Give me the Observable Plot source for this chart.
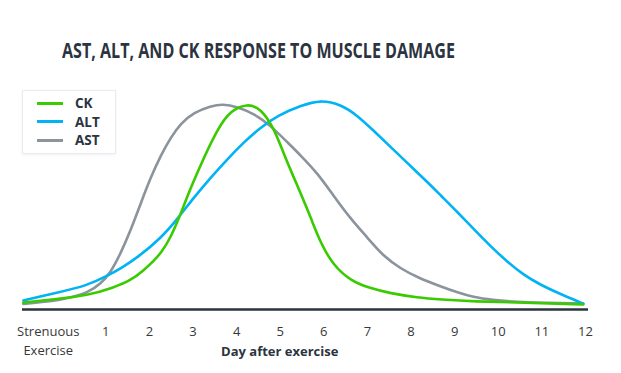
<!DOCTYPE html>
<html>
<head>
<meta charset="utf-8">
<script src="https://cdn.jsdelivr.net/npm/d3@7"></script>
<script src="https://cdn.jsdelivr.net/npm/@observablehq/plot@0.6"></script>
<style>
  html, body { margin: 0; padding: 0; background: #fff; }
  #wrap { position: relative; width: 621px; height: 373px; overflow: hidden; font-family: "Open Sans", sans-serif; }
  #title { position: absolute; left: 62px; top: 39px; font-size: 21.5px; line-height: 1; font-weight: 700; color: #2b3440; white-space: nowrap; transform-origin: left top; }
  #legend { position: absolute; left: 22px; top: 90px; width: 92px; height: 62px; background: #fff; border: 1px solid #e8ecf1; box-shadow: 0 1px 3px rgba(0,0,0,0.06); }
  .lg-row { position: absolute; left: 0; height: 16px; width: 92px; }
  .lg-sw { position: absolute; left: 14px; top: 6.5px; width: 26px; height: 3px; }
  .lg-tx { position: absolute; left: 52px; top: 0; font-size: 13.5px; line-height: 16px; font-weight: 700; color: #2b3440; }
  #xlabel { position: absolute; top: 343px; left: 0; font-size: 13px; line-height: 16px; font-weight: 700; color: #2b3440; white-space: nowrap; transform: translateX(-50%); }
  svg { position: absolute; left: 0; top: 0; }
</style>
</head>
<body>
<div id="wrap">
  <div id="title">AST, ALT, AND CK RESPONSE TO MUSCLE DAMAGE</div>
  <div id="xlabel">Day after exercise</div>
</div>
<script>
// ---- data ----
const seriesNames = ["CK", "ALT", "AST"];
const seriesColors = ["#38cb00", "#00b3f4", "#8b939c"];

const ckDay   = [-0.89,-0.19,0.59,1.18,1.57,1.87,2.10,2.26,2.49,2.72,2.95,3.25,3.57,3.86,4.25,4.55,4.85,5.08,5.31,5.47,5.70,5.93,6.22,6.61,7.00,7.53,8.15,8.68,9.43,10.58,11.95];
const ckLevel = [3.3,4.8,6.7,10.5,13.9,18.7,23.4,26.8,34.4,45.9,58.4,72.7,86.6,95.2,98.6,96.2,87.1,74.6,63.2,55.5,44.0,31.6,21.1,13.9,10.5,7.7,5.7,4.8,3.8,3.3,2.4];

const altDay   = [-0.89,-0.19,0.59,1.05,1.34,1.73,2.26,2.65,3.02,3.41,3.80,4.16,4.55,4.94,5.47,5.93,6.39,6.77,7.14,7.53,7.92,8.38,8.68,9.07,9.43,9.82,10.21,10.58,10.97,11.36,11.95];
const altLevel = [4.3,7.7,11.5,16.3,19.6,24.9,34.0,43.5,53.6,63.2,72.2,79.9,87.1,92.8,97.6,100.3,98.1,92.8,85.6,77.8,70.0,60.9,54.6,46.5,38.6,30.3,22.8,16.6,11.8,8.0,2.8];

const astDay   = [-0.89,-0.19,0.20,0.59,0.89,1.11,1.34,1.57,1.80,2.03,2.26,2.49,2.72,3.02,3.41,3.68,4.02,4.39,4.78,5.17,5.47,5.86,6.22,6.61,7.00,7.37,7.76,8.15,8.68,9.07,9.43,9.82,10.58,11.95];
const astLevel = [2.7,4.0,5.7,8.1,12.4,17.7,26.8,37.8,50.7,63.2,73.7,82.3,89.0,94.3,97.3,98.4,96.9,93.8,88.0,79.9,73.7,65.1,54.5,43.5,34.4,25.4,19.6,15.3,11.0,8.1,5.9,4.6,3.3,2.9];

const tickValues = [-0.32, 1, 2, 3, 4, 5, 6, 7, 8, 9, 10, 11, 12];
const tickLabels = ["Strenuous\nExercise", "1", "2", "3", "4", "5", "6", "7", "8", "9", "10", "11", "12"];
const xLabelDay = 5;

// ---- build table ----
const seriesData = [[ckDay, ckLevel], [altDay, altLevel], [astDay, astLevel]];
const rows = seriesData.flatMap(([ds, ls], i) => ds.map((d, j) => ({series: seriesNames[i], day: d, level: ls[j]})));

const plot = Plot.plot({
  width: 621,
  height: 373,
  marginLeft: 22,
  marginRight: 33,
  marginTop: 100,
  marginBottom: 64,
  style: {fontFamily: "Open Sans, sans-serif", background: "transparent"},
  x: {domain: [-0.91, 12.07]},
  y: {domain: [0, 100], axis: null},
  color: {domain: seriesNames, range: seriesColors},
  marks: [
    Plot.ruleY([0], {stroke: "#2b333d", strokeWidth: 2.5}),
    Plot.line(rows.filter(r => r.series === "AST"), {x: "day", y: "level", stroke: "series", strokeWidth: 2.6, curve: "basis"}),
    Plot.line(rows.filter(r => r.series === "ALT"), {x: "day", y: "level", stroke: "series", strokeWidth: 2.6, curve: "basis"}),
    Plot.line(rows.filter(r => r.series === "CK"), {x: "day", y: "level", stroke: "series", strokeWidth: 2.6, curve: "basis"}),
    Plot.axisX({
      ticks: tickValues,
      tickFormat: (d) => tickLabels[tickValues.indexOf(d)],
      tickSize: 0,
      tickPadding: 14,
      fontSize: 13,
      lineHeight: 1.4,
      fill: "#383838",
      label: null
    })
  ]
});

const wrap = document.getElementById("wrap");
wrap.appendChild(plot);

// legend
const legend = document.createElement("div");
legend.id = "legend";
const rowTops = [4, 22.5, 41];
seriesNames.forEach((n, i) => {
  const r = document.createElement("div");
  r.className = "lg-row";
  r.style.top = rowTops[i] + "px";
  const sw = document.createElement("div");
  sw.className = "lg-sw";
  sw.style.background = seriesColors[i];
  const tx = document.createElement("div");
  tx.className = "lg-tx";
  tx.textContent = n;
  r.appendChild(sw); r.appendChild(tx);
  legend.appendChild(r);
});
wrap.appendChild(legend);

// x label centered at day 5
const xl = document.getElementById("xlabel");
wrap.appendChild(xl);
const xs = plot.scale("x");
xl.style.left = xs.apply(xLabelDay) + "px";

// title width fit
const t = document.getElementById("title");
wrap.appendChild(t);
const w = t.getBoundingClientRect().width;
t.style.transform = `scaleX(${393 / w})`;
</script>
</body>
</html>
